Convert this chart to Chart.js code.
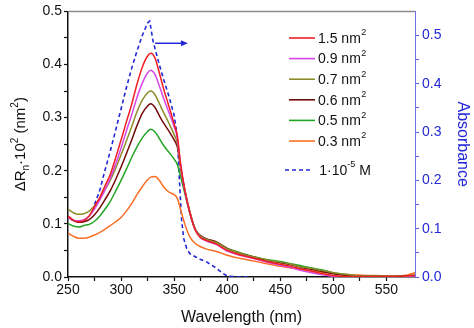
<!DOCTYPE html>
<html>
<head>
<meta charset="utf-8">
<script src="https://cdn.jsdelivr.net/npm/chart.js@4.4.0/dist/chart.umd.min.js"></script>
<style>
  html, body { margin: 0; padding: 0; background: #fff; }
</style>
</head>
<body>
<canvas id="spectra" width="474" height="328"></canvas>
<script>
const FONT = '"Liberation Sans", Arial, sans-serif';
const BLUE = 'rgb(35,40,215)';

// wavelength grid (nm) shared by the ΔR spectra
const wavelength = [250, 255, 260, 265, 270, 275, 280, 285, 290, 295,
  300, 305, 310, 315, 320, 325, 328, 332, 336, 340,
  345, 350, 353, 356, 360, 365, 370, 375, 380, 390,
  400, 410, 420, 430, 440, 450, 460, 470, 480, 490,
  500, 510, 520, 530, 540, 550, 560, 570, 577];

const dR15 = [0.115, 0.107, 0.104, 0.106, 0.115, 0.133, 0.150, 0.172, 0.194, 0.225,
  0.258, 0.292, 0.325, 0.363, 0.395, 0.416, 0.421, 0.412, 0.385, 0.355,
  0.322, 0.288, 0.266, 0.215, 0.165, 0.120, 0.088, 0.074, 0.069, 0.062,
  0.050, 0.043, 0.038, 0.033, 0.028, 0.024, 0.020, 0.015, 0.011, 0.006,
  0.003, 0.001, 0.001, 0.001, 0.001, 0.001, 0.001, 0.002, 0.003];
const dR09 = [0.112, 0.107, 0.106, 0.108, 0.115, 0.128, 0.145, 0.165, 0.187, 0.213,
  0.243, 0.275, 0.305, 0.338, 0.365, 0.384, 0.389, 0.381, 0.360, 0.337,
  0.310, 0.283, 0.262, 0.212, 0.163, 0.119, 0.088, 0.074, 0.068, 0.061,
  0.049, 0.042, 0.037, 0.032, 0.027, 0.022, 0.018, 0.012, 0.008, 0.004,
  0.001, 0.000, 0.000, 0.000, 0.000, 0.000, 0.000, 0.001, 0.002];
const dR07 = [0.128, 0.121, 0.118, 0.119, 0.124, 0.134, 0.148, 0.165, 0.183, 0.205,
  0.230, 0.256, 0.283, 0.311, 0.333, 0.347, 0.350, 0.343, 0.327, 0.310,
  0.290, 0.268, 0.252, 0.210, 0.165, 0.122, 0.090, 0.077, 0.071, 0.065,
  0.053, 0.046, 0.040, 0.036, 0.031, 0.028, 0.024, 0.019, 0.016, 0.012,
  0.008, 0.005, 0.003, 0.002, 0.002, 0.001, 0.001, 0.002, 0.003];
const dR06 = [0.113, 0.106, 0.103, 0.104, 0.108, 0.117, 0.130, 0.146, 0.163, 0.184,
  0.207, 0.232, 0.258, 0.285, 0.308, 0.322, 0.326, 0.319, 0.304, 0.290,
  0.275, 0.258, 0.245, 0.207, 0.163, 0.121, 0.090, 0.078, 0.072, 0.066,
  0.054, 0.046, 0.040, 0.035, 0.030, 0.027, 0.023, 0.018, 0.014, 0.010,
  0.006, 0.003, 0.002, 0.001, 0.001, 0.001, 0.001, 0.002, 0.003];
const dR05 = [0.101, 0.096, 0.094, 0.097, 0.099, 0.105, 0.115, 0.128, 0.143, 0.162,
  0.182, 0.203, 0.225, 0.245, 0.262, 0.274, 0.278, 0.273, 0.261, 0.248,
  0.235, 0.222, 0.212, 0.190, 0.158, 0.118, 0.088, 0.076, 0.071, 0.065,
  0.054, 0.047, 0.041, 0.036, 0.032, 0.029, 0.025, 0.021, 0.017, 0.013,
  0.008, 0.005, 0.003, 0.002, 0.002, 0.001, 0.001, 0.002, 0.003];
const dR03 = [0.083, 0.077, 0.073, 0.073, 0.075, 0.079, 0.084, 0.090, 0.097, 0.104,
  0.112, 0.124, 0.138, 0.155, 0.170, 0.183, 0.188, 0.189, 0.182, 0.170,
  0.160, 0.155, 0.148, 0.128, 0.100, 0.075, 0.063, 0.057, 0.053, 0.048,
  0.041, 0.036, 0.032, 0.028, 0.024, 0.020, 0.017, 0.014, 0.011, 0.009,
  0.007, 0.005, 0.004, 0.003, 0.003, 0.002, 0.002, 0.004, 0.008];

// solution absorbance, 1e-5 M (right axis)
const absWavelength = [275, 280, 285, 290, 295, 300, 305, 310, 315, 320,
  325, 327, 330, 335, 340, 345, 350, 353, 355, 357,
  359, 362, 365, 370, 375, 380, 385, 390, 395, 400, 410, 420];
const absorbance = [0.150, 0.180, 0.222, 0.262, 0.305, 0.348, 0.392, 0.432, 0.468, 0.500,
  0.526, 0.530, 0.490, 0.448, 0.410, 0.375, 0.335, 0.290, 0.200, 0.120,
  0.080, 0.058, 0.048, 0.042, 0.036, 0.032, 0.025, 0.018, 0.009, 0.002, 0.000, 0.000];

const areaLabels = ['1.5', '0.9', '0.7', '0.6', '0.5', '0.3'];
const areaSeries = [dR15, dR09, dR07, dR06, dR05, dR03];
const areaColors = ['rgb(240,30,35)', 'rgb(215,70,230)', 'rgb(140,140,45)',
  'rgb(115,10,10)', 'rgb(35,165,35)', 'rgb(250,110,35)'];

const isMultiple = (v, step) => Math.abs(v / step - Math.round(v / step)) < 1e-6;

const datasets = areaSeries.map((vals, i) => ({
  label: areaLabels[i] + ' nm²',
  data: wavelength.map((w, j) => ({ x: w, y: vals[j] })),
  borderColor: areaColors[i],
  borderWidth: 1.5,
  pointRadius: 0,
  cubicInterpolationMode: 'monotone',
  yAxisID: 'y'
}));
datasets.push({
  label: '1·10⁻⁵ M',
  data: absWavelength.map((w, j) => ({ x: w, y: absorbance[j] })),
  borderColor: BLUE,
  borderWidth: 1.6,
  borderDash: [4, 3],
  pointRadius: 0,
  tension: 0,
  yAxisID: 'yAbs'
});

// draws "text" pieces with super/subscripts along a baseline
function drawRich(ctx, parts, cx, cy, rotation) {
  ctx.save();
  ctx.translate(cx, cy);
  ctx.rotate(rotation);
  ctx.textBaseline = 'middle';
  ctx.textAlign = 'left';
  let total = 0;
  parts.forEach(p => {
    ctx.font = p.size + 'px ' + FONT;
    p.w = ctx.measureText(p.t).width;
    total += p.w;
  });
  let x = -total / 2;
  parts.forEach(p => {
    ctx.font = p.size + 'px ' + FONT;
    ctx.fillStyle = p.color || '#111';
    ctx.fillText(p.t, x, p.dy || 0);
    x += p.w;
  });
  ctx.restore();
}

const decorations = {
  id: 'decorations',
  afterDraw(chart) {
    const ctx = chart.ctx;
    const area = chart.chartArea;
    const xs = chart.scales.x;
    const ya = chart.scales.yAbs;

    // frame top
    ctx.save();
    ctx.strokeStyle = '#8c8c8c';
    ctx.lineWidth = 1.5;
    ctx.beginPath();
    ctx.moveTo(area.left, area.top);
    ctx.lineTo(area.right, area.top);
    ctx.stroke();

    // arrow pointing at the absorbance axis
    const ax0 = xs.getPixelForValue(332), ax1 = xs.getPixelForValue(363);
    const ay = ya.getPixelForValue(0.484);
    ctx.strokeStyle = BLUE;
    ctx.fillStyle = BLUE;
    ctx.lineWidth = 1.5;
    ctx.beginPath();
    ctx.moveTo(ax0, ay);
    ctx.lineTo(ax1 - 5, ay);
    ctx.stroke();
    ctx.beginPath();
    ctx.moveTo(ax1, ay);
    ctx.lineTo(ax1 - 7, ay - 3);
    ctx.lineTo(ax1 - 7, ay + 3);
    ctx.closePath();
    ctx.fill();

    // legend
    ctx.textBaseline = 'middle';
    ctx.textAlign = 'left';
    areaLabels.forEach((lab, i) => {
      const y = 38 + i * 20.6;
      ctx.strokeStyle = areaColors[i];
      ctx.lineWidth = 1.6;
      ctx.beginPath();
      ctx.moveTo(289, y);
      ctx.lineTo(315, y);
      ctx.stroke();
      ctx.fillStyle = '#111';
      ctx.font = '14px ' + FONT;
      const main = lab + ' nm';
      ctx.fillText(main, 318, y + 1);
      const w = ctx.measureText(main).width;
      ctx.font = '9px ' + FONT;
      ctx.fillText('2', 318 + w + 0.5, y - 5);
    });
    const yd = 170;
    ctx.strokeStyle = BLUE;
    ctx.lineWidth = 1.6;
    ctx.setLineDash([4, 3]);
    ctx.beginPath();
    ctx.moveTo(285, yd);
    ctx.lineTo(313, yd);
    ctx.stroke();
    ctx.setLineDash([]);
    ctx.restore();
    drawRich(ctx, [
      { t: '1·10', size: 14 },
      { t: '-5', size: 9, dy: -6 },
      { t: ' M', size: 14 }
    ], 315 + 30, yd + 1, 0);

    // left axis title
    drawRich(ctx, [
      { t: 'ΔR', size: 15 },
      { t: 'n', size: 10, dy: 5 },
      { t: '·10', size: 15 },
      { t: '2', size: 10, dy: -6 },
      { t: ' (nm', size: 15 },
      { t: '2', size: 10, dy: -6 },
      { t: ')', size: 15 }
    ], 21, (area.top + area.bottom) / 2, -Math.PI / 2);
  }
};

new Chart(document.getElementById('spectra'), {
  type: 'line',
  data: { datasets },
  options: {
    responsive: false,
    animation: false,
    layout: { padding: { top: 10, left: 0, right: 0, bottom: 0 } },
    plugins: { legend: { display: false }, tooltip: { enabled: false } },
    scales: {
      x: {
        type: 'linear',
        min: 250,
        max: 577,
        afterBuildTicks: s => { s.ticks = s.ticks.filter(t => isMultiple(t.value, 25)); },
        afterFit: s => { s.height = 51; },
        ticks: {
          stepSize: 25,
          autoSkip: false,
          maxRotation: 0,
          padding: 1,
          color: '#111',
          font: { family: FONT, size: 14 },
          callback: v => isMultiple(v, 50) ? String(v) : ''
        },
        grid: { drawOnChartArea: false, tickLength: 4, color: '#111', tickWidth: 1.2 },
        border: { color: '#111', width: 1.5 },
        title: {
          display: true,
          text: 'Wavelength (nm)',
          color: '#111',
          font: { family: FONT, size: 16 },
          padding: { top: 0, bottom: 1 }
        }
      },
      y: {
        position: 'left',
        min: 0,
        max: 0.5,
        afterBuildTicks: s => { s.ticks = s.ticks.filter(t => isMultiple(t.value, 0.05)); },
        afterFit: s => { s.width = 68; },
        ticks: {
          stepSize: 0.05,
          autoSkip: false,
          padding: 2,
          color: '#111',
          font: { family: FONT, size: 14 },
          callback: v => isMultiple(v, 0.1) ? v.toFixed(1) : ''
        },
        grid: { drawOnChartArea: false, tickLength: 4, color: '#111', tickWidth: 1.2 },
        border: { color: '#111', width: 1.5 }
      },
      yAbs: {
        position: 'right',
        min: 0,
        max: 0.55,
        afterBuildTicks: s => { s.ticks = s.ticks.filter(t => isMultiple(t.value, 0.05) && t.value < 0.52); },
        afterFit: s => { s.width = 59; },
        ticks: {
          stepSize: 0.05,
          autoSkip: false,
          padding: 3,
          color: BLUE,
          font: { family: FONT, size: 14 },
          callback: v => isMultiple(v, 0.1) ? v.toFixed(1) : ''
        },
        grid: { drawOnChartArea: false, tickLength: 4, color: 'rgb(90,90,225)', tickWidth: 1 },
        border: { color: 'rgb(110,110,230)', width: 1 },
        title: {
          display: true,
          text: 'Absorbance',
          color: BLUE,
          font: { family: FONT, size: 16 },
          padding: { top: 1.5, bottom: 0 }
        }
      }
    }
  },
  plugins: [decorations]
});
</script>
</body>
</html>
